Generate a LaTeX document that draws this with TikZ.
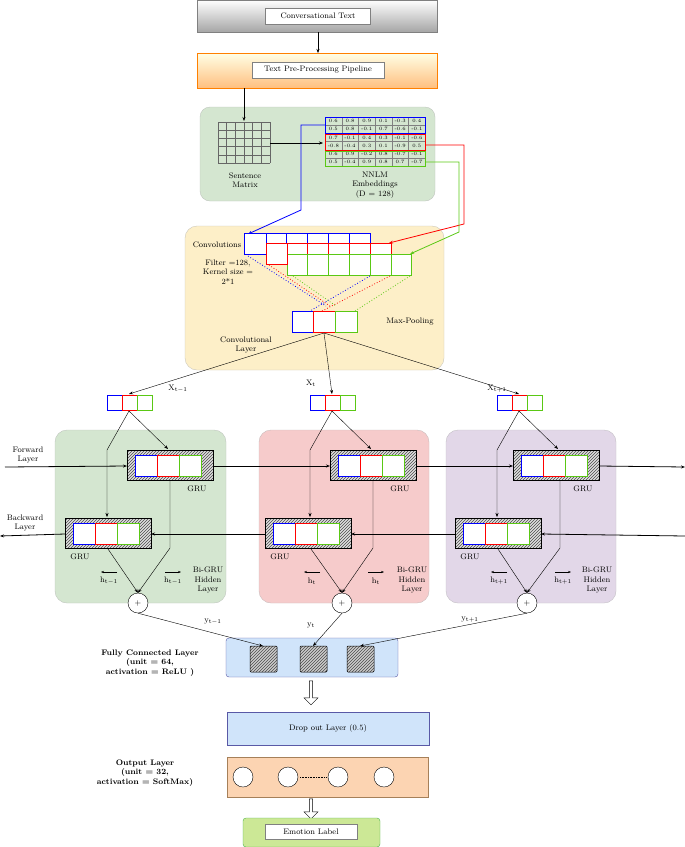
\documentclass[tikz,border=0pt]{standalone}
\usetikzlibrary{patterns,arrows.meta,shapes.arrows}
\begin{document}
\begin{tikzpicture}[x=1pt,y=-1pt,font=\fontsize{8}{9.5}\selectfont,
 ar/.style={-{Stealth[length=4pt,width=3pt]},line width=0.4pt},
 wb/.style={draw=gray,fill=white,minimum height=16pt,inner sep=1pt},
 sq/.style={draw=#1,fill=white,line width=0.7pt},
 hat/.style={draw,line width=0.8pt,pattern=north east lines,pattern color=black!70},
 panel/.style={rounded corners=12pt,draw=#1!60!black!50,fill=#1},
 lab/.style={align=center,inner sep=0pt},
 hol/.style={single arrow,draw,fill=white,minimum height=24pt,single arrow head extend=4pt,minimum width=14pt,shape border rotate=270,inner sep=1pt}]
\useasboundingbox (0,0) rectangle (685,847);
\definecolor{gb}{RGB}{212,230,208}
\definecolor{yb}{RGB}{253,239,200}
\definecolor{rb}{RGB}{246,203,203}
\definecolor{pb}{RGB}{226,215,232}
\definecolor{lb}{RGB}{208,228,250}
\definecolor{ob}{RGB}{252,212,178}
\definecolor{eb}{RGB}{204,232,150}
\definecolor{gn}{RGB}{90,200,20}
% top boxes
\shade[top color=white,bottom color=gray!70,draw=gray] (197,0) rectangle (437,32);
\node[wb,minimum width=105pt] (ct) at (318,16) {Conversational Text};
\shade[top color=yellow!10,bottom color=orange!50,draw=orange] (197,53) rectangle (437,88);
\node[wb,minimum width=132pt] (tp) at (318,70) {Text Pre-Processing Pipeline};
\coordinate (c1) at (318,32); \coordinate (c2) at (318,53);
\draw[ar] (c1)--(c2);
% green embedding panel
\draw[panel=gb,rounded corners=10pt] (200,107) rectangle (435,201);
\coordinate (a1) at (244,88); \coordinate (a2) at (244,121);
\draw[ar,line width=0.8pt] (a1)--(a2);
\foreach \k in {0,...,6}{\draw[black!60] (218+\k*8.67,122)--(218+\k*8.67,163);}
\foreach \k in {0,...,5}{\draw[black!60] (218,122+\k*8.2)--(270,122+\k*8.2);}
\node[lab] (sm) at (245,180) {Sentence\\Matrix};
\coordinate (s1) at (270,143); \coordinate (s2) at (323,143);
\draw[ar] (s1)--(s2);
\foreach \r [count=\i] in {{0.6,0.8,0.9,0.1,-0.3,0.4},{0.5,0.8,-0.1,0.7,-0.6,-0.1},{0.7,-0.1,0.4,0.3,-0.1,-0.6},{-0.8,-0.4,0.3,0.1,-0.9,0.5},{0.6,0.9,-0.2,0.8,-0.7,-0.1},{0.5,-0.4,0.9,0.8,0.7,-0.7}}{
 \foreach \v [count=\j] in \r {
  \draw[black!50,fill=gb] (325+\j*16.7-16.7,117+\i*8.2-8.2) rectangle ++(16.7,8.2);
  \node[font=\fontsize{5}{5.5}\selectfont,inner sep=0] at (325+\j*16.7-8.35,117+\i*8.2-4.1) {\v};}}
\draw[blue,line width=0.8pt] (325,117) rectangle (425,133.4);
\draw[red,line width=0.8pt] (325,134.4) rectangle (425,150.8);
\draw[gn,line width=0.8pt] (325,151.8) rectangle (425,166.2);
\node[lab] (nn) at (375,185) {NNLM\\Embeddings\\(D = 128)};
% conv panel
\draw[panel=yb] (185,226) rectangle (444,370);
\foreach \k in {0,...,4}{\draw[sq=blue] (266+\k*20.8,233) rectangle ++(20.8,10);}
\foreach \k in {0,...,4}{\draw[sq=red] (287+\k*20.8,243) rectangle ++(20.8,11);}
\foreach \k in {0,...,5}{\draw[sq=gn] (287+\k*20.8,254) rectangle ++(20.8,21);}
\draw[sq=blue] (244,233) rectangle (266,254);
\draw[sq=red] (266,243) rectangle (287,264);
\coordinate (bs) at (325,125); \coordinate (bt) at (248,234);
\draw[blue,ar,line width=0.8pt] (bs)--(301,125)--(301,210)--(bt);
\coordinate (rs) at (425,145); \coordinate (rt) at (389,243);
\draw[red,ar,line width=0.8pt] (rs)--(464,145)--(464,224)--(rt);
\coordinate (gs) at (425,162); \coordinate (gt) at (410,254);
\draw[gn,ar,line width=0.8pt] (gs)--(459,162)--(459,232)--(gt);
\draw[blue,dotted,thick] (248,256)--(326,306) (370,276)--(310,311);
\draw[red,dotted,thick] (269,265)--(330,306) (390,276)--(322,311);
\draw[gn,dotted,thick] (293,276)--(336,306) (410,276)--(355,311);
\draw[sq=blue] (292,311) rectangle (313,332);
\draw[sq=red] (313,311) rectangle (335,332);
\draw[sq=gn] (335,311) rectangle (357,332);
\coordinate (mp) at (324,333);
\node[lab] (mpl) at (410,322) {Max-Pooling};
\node[lab] (cv) at (217,245) {Convolutions};
\node[lab] (fk) at (228,272) {Filter =128,\\Kernel size =\\2*1};
\node[lab] (cl) at (246,345) {Convolutional\\Layer};
% input blocks
\foreach \nm/\x in {i1/107,i2/310,i3/497}{
 \draw[sq=blue] (\x,395) rectangle ++(15,15);
 \draw[sq=red] (\x+15,395) rectangle ++(15,15);
 \draw[sq=gn] (\x+30,395) rectangle ++(15,15);
 \coordinate (\nm t) at (\x+22,394); \coordinate (\nm b) at (\x+22,411);}
\draw[ar] (mp)--(i1t); \draw[ar] (mp)--(i2t); \draw[ar] (mp)--(i3t);
\node (x1) at (178,389) {X$_{\mathrm{t-1}}$};
\node (x2) at (311,383) {X$_{\mathrm{t}}$};
\node (x3) at (497,389) {X$_{\mathrm{t+1}}$};
% panels
\draw[panel=gb] (55,430) rectangle (226,603);
\draw[panel=rb] (259,430) rectangle (429,603);
\draw[panel=pb] (446,430) rectangle (616,603);
% GRUs
\foreach \nm/\x/\y in {f1/127/450,f2/330/450,f3/513/450,b1/65/518,b2/265/518,b3/455/518}{
 \fill[gray!25] (\x,\y) rectangle ++(86,30);
 \draw[hat] (\x,\y) rectangle ++(86,30);
 \draw[sq=blue] (\x+8,\y+5) rectangle ++(22,21);
 \draw[sq=red] (\x+30,\y+5) rectangle ++(22,21);
 \draw[sq=gn] (\x+52,\y+5) rectangle ++(22,21);
 \coordinate (\nm w) at (\x,\y+16); \coordinate (\nm e) at (\x+86,\y+16);}
\node at (197,489) {GRU}; \node at (400,489) {GRU}; \node at (583,489) {GRU};
\node at (80,557) {GRU}; \node at (280,557) {GRU}; \node at (470,557) {GRU};
\coordinate (L0) at (5,467); \coordinate (R0) at (685,467);
\draw[ar,line width=0.8pt] (L0)--(f1w);
\draw[ar,line width=0.8pt] (f1e)--(f2w);
\draw[ar,line width=0.8pt] (f2e)--(f3w);
\draw[ar,line width=0.8pt] (f3e)--(R0);
\coordinate (L1) at (0,536); \coordinate (R1) at (685,536);
\draw[ar,line width=0.8pt] (R1)--(b3e);
\draw[ar,line width=0.8pt] (b3w)--(b2e);
\draw[ar,line width=0.8pt] (b2w)--(b1e);
\draw[ar,line width=0.8pt] (b1w)--(L1);
\node[lab] at (28,455) {Forward\\Layer};
\node[lab] at (25,523) {Backward\\Layer};
% connections per column
\foreach \i/\xb/\xf/\cx/\hl in {1/107/170/138/t-1,2/310/373/342/t,3/497/560/527/t+1}{
 \node[draw,circle,fill=white,minimum size=20pt,inner sep=0] (p\i) at (\cx,603) {+};
 \draw[ar] (i\i b)--(\xb,450)--(\xb,517);
 \draw[ar] (i\i b)--(\xf-2,449);
 \draw[ar] (\xf,481)--(\xf,548)--(p\i.north);
 \draw[ar] (\xb+1,549)--(p\i.north);
 \draw[-{Stealth[length=3pt]}] (\xb+10,572)--(\xb-6,572);
 \draw[-{Stealth[length=3pt]}] (\xf-5,572)--(\xf+11,572);
 \node at (\xb+2,581) {h$_{\mathrm{\hl}}$};
 \node at (\xf+3,581) {h$_{\mathrm{\hl}}$};
 \node[lab] at (\cx+70,580) {Bi-GRU\\Hidden\\Layer};}
% FC
\draw[rounded corners=3pt,draw=gray!70!blue,fill=lb] (226,638) rectangle (398,677);
\foreach \nm/\x in {q1/250,q2/300,q3/347}{
 \fill[gray!40,rounded corners=1pt] (\x,646) rectangle ++(27,26);
 \draw[hat,line width=0.5pt,rounded corners=1pt] (\x,646) rectangle ++(27,26);
 \coordinate (\nm) at (\x+13,646);}
\draw[ar] (p1.south)--(q1); \draw[ar] (p2.south)--(q2); \draw[ar] (p3.south)--(q3);
\node at (213,622) {y$_{\mathrm{t-1}}$};
\node at (311,626) {y$_{\mathrm{t}}$};
\node at (470,620) {y$_{\mathrm{t+1}}$};
\node[lab,font=\fontsize{8}{9.5}\selectfont\bfseries] at (150,663) {Fully Connected Layer\\(unit = 64,\\activation = ReLU )};
\node[hol] (h1) at (311,692) {};
\draw[draw=gray!70!blue,fill=lb] (227,712) rectangle (429,745);
\node (do) at (328,728) {Drop out Layer (0.5)};
\draw[draw=gray!70!orange,fill=ob] (227,757) rectangle (428,797);
\foreach \x in {243,288,338,384}{\node[draw,circle,fill=white,minimum size=20pt,inner sep=0] at (\x,777) {};}
\draw[dash pattern=on 1pt off 0.6pt] (300,777)--(327,777);
\node[lab,font=\fontsize{8}{9.5}\selectfont\bfseries] at (145,773) {Output Layer\\(unit = 32,\\activation = SoftMax)};
\node[hol,minimum height=20pt] (h2) at (311,808) {};
\draw[rounded corners=3pt,draw=gray!60!green,fill=eb] (243,818) rectangle (380,847);
\node[wb,minimum width=92pt,minimum height=15pt] (el) at (311,832) {Emotion Label};
\end{tikzpicture}
\end{document}
